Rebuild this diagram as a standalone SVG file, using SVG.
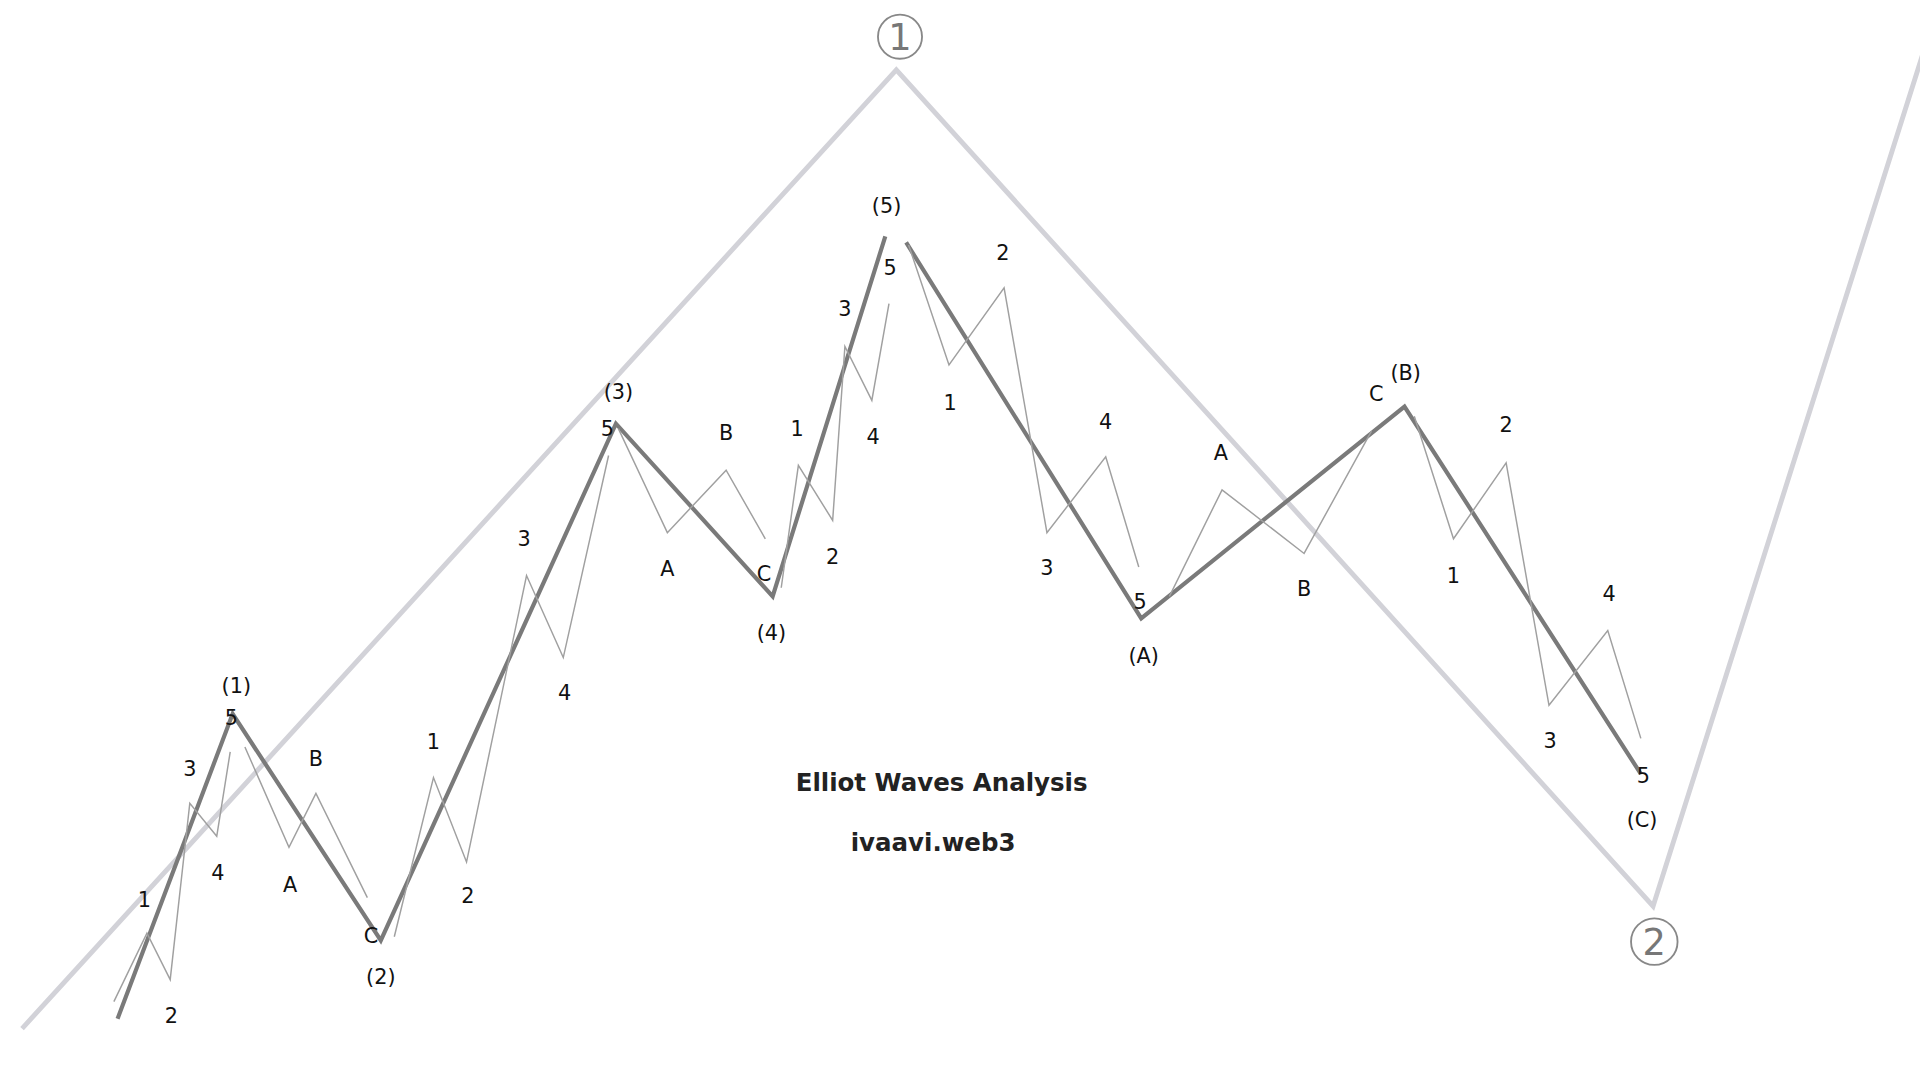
<svg xmlns="http://www.w3.org/2000/svg" width="1920" height="1080" viewBox="0 0 1920 1080">
<style>
.big{fill:none;stroke:#d2d2d8;stroke-width:4;stroke-linejoin:miter}
.main{fill:none;stroke:#7a7a7a;stroke-width:3.4}
.sub{fill:none;stroke:#a0a0a0;stroke-width:1.2}
text{font-family:"DejaVu Sans","Open Sans",sans-serif;font-size:17px;fill:#111;text-anchor:middle;dominant-baseline:central}
.t{font-weight:bold;font-size:20px;fill:#222}
.c{font-size:30px;fill:#777}
.cc{fill:#fff;stroke:#888;stroke-width:1.5}
</style>
<rect width="1920" height="1080" fill="#fff"/>
<g transform="scale(1.2245)">
<g id="connectors">
<polyline class="big" points="18,840 732,57 1350,740 1570,45"/>
<polyline class="main" points="96,832 190,583 311,768 503,346 631,487 723,193"/>
<polyline class="main" points="740,198 932,505 1147,332 1340,632"/>
<polyline class="sub" points="93,818 120,762 139,800 155,656 177,683 188,614"/>
<polyline class="sub" points="200,610 236,692 258,648 300,733"/>
<polyline class="sub" points="322,765 354,635 381,704 430,470 460,537 497,372"/>
<polyline class="sub" points="505,350 545,435 593,384 625,440"/>
<polyline class="sub" points="638,480 652,380 680,425 690,283 712,327 726,248"/>
<polyline class="sub" points="742,200 775,298 820,235 855,435 903,373 930,463"/>
<polyline class="sub" points="955,487 998,400 1065,452 1120,352"/>
<polyline class="sub" points="1155,340 1187,440 1230,378 1265,576 1313,515 1340,603"/>
</g>
<g id="circle1"><circle class="cc" cx="735" cy="30" r="18"/><text class="c" x="735" y="31">1</text></g>
<g id="circle2"><circle class="cc" cx="1351" cy="769" r="19"/><text class="c" x="1351" y="770">2</text></g>
<g id="labels">
<text x="118" y="735">1</text><text x="140" y="830">2</text><text x="155" y="628">3</text><text x="178" y="713">4</text><text x="189" y="586">5</text><text x="193" y="560">(1)</text>
<text x="237" y="723">A</text><text x="258" y="620">B</text><text x="303" y="764">C</text><text x="311" y="798">(2)</text>
<text x="354" y="606">1</text><text x="382" y="732">2</text><text x="428" y="440">3</text><text x="461" y="566">4</text><text x="496" y="350">5</text><text x="505" y="320">(3)</text>
<text x="545" y="465">A</text><text x="593" y="354">B</text><text x="624" y="469">C</text><text x="630" y="517">(4)</text>
<text x="651" y="350">1</text><text x="680" y="455">2</text><text x="690" y="252">3</text><text x="713" y="357">4</text><text x="727" y="219">5</text><text x="724" y="168">(5)</text>
<text x="776" y="329">1</text><text x="819" y="207">2</text><text x="855" y="464">3</text><text x="903" y="345">4</text><text x="931" y="492">5</text><text x="934" y="536">(A)</text>
<text x="997" y="370">A</text><text x="1065" y="481">B</text><text x="1124" y="322">C</text><text x="1148" y="305">(B)</text>
<text x="1187" y="470">1</text><text x="1230" y="347">2</text><text x="1266" y="605">3</text><text x="1314" y="485">4</text><text x="1342" y="634">5</text><text x="1341" y="670">(C)</text>
</g>
<g id="title">
<text class="t" x="769" y="639">Elliot Waves Analysis</text>
<text class="t" x="762" y="688">ivaavi.web3</text>
</g>
</g>
</svg>
